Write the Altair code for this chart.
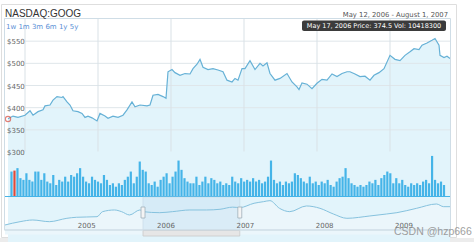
import altair as alt
import pandas as pd

# ---------------- data ----------------
title_text = "NASDAQ:GOOG"
range_text = "May 12, 2006 - August 1, 2007"
tooltip_text = "May 17, 2006 Price: 374.5 Vol: 10418300"
period_links = "1w 1m 3m 6m 1y 5y"
watermark = "CSDN @hzp666"

# main price series: day offset since May 12, 2006 -> price ($)
price_day = [3, 8, 13, 20, 25, 28, 33, 38, 40, 45, 48, 52, 57, 58, 62, 65, 68, 73, 77, 80,
             83, 87, 92, 95, 100, 103, 108, 113, 118, 122, 127, 130, 135, 142, 145, 148, 153, 158, 161, 163,
             167, 170, 175, 180, 185, 188, 192, 195, 198, 203, 208, 213, 218, 222, 227, 230, 233, 237, 240, 245,
             250, 255, 258, 262, 265, 270, 275, 282, 287, 292, 294, 297, 302, 307, 312, 317, 322, 327, 332, 337,
             342, 345, 350, 355, 360, 365, 369, 374, 379, 385, 390, 395, 400, 405, 409, 414, 417, 422, 427, 430,
             434, 435, 439, 442, 445]
price_val = [375, 381, 378, 383, 393, 383, 391, 395, 404, 406, 417, 425, 423, 425, 413, 406, 393, 391, 387, 378,
             381, 377, 370, 387, 381, 376, 381, 378, 383, 395, 413, 402, 406, 404, 406, 428, 430, 425, 421, 481,
             486, 479, 473, 477, 476, 488, 498, 509, 491, 486, 488, 485, 481, 462, 458, 466, 462, 488, 488, 506,
             486, 500, 494, 501, 477, 462, 466, 477, 458, 447, 441, 456, 453, 443, 455, 464, 462, 476, 470, 477,
             481, 481, 476, 470, 471, 462, 473, 479, 488, 518, 509, 506, 518, 526, 533, 531, 541, 546, 552, 556,
             541, 518, 513, 516, 511]
marker_day = [3]
marker_price = [374.5]

y_ticks = [300, 350, 400, 450, 500, 550]
y_tick_labels = ["$300", "$350", "$400", "$450", "$500", "$550"]
grid_days = [20, 93, 166, 239, 312, 385]

# volume (millions)
volume_m = [10.0, 10.4, 11.4, 7.3, 6.6, 9.3, 6.6, 5.9, 10.0, 10.0, 6.6, 9.3, 5.9, 5.2, 8.6, 4.5, 6.6, 5.9, 7.9, 5.9,
            8.6, 7.9, 9.3, 11.4, 7.9, 5.9, 5.2, 7.9, 6.6, 5.9, 5.2, 8.6, 6.6, 4.5, 5.2, 3.8, 5.2, 4.5, 6.6, 7.9,
            10.0, 5.2, 7.9, 14.1, 10.7, 10.0, 5.2, 4.5, 5.9, 3.8, 6.6, 7.9, 9.3, 5.2, 7.9, 10.0, 14.5, 10.7, 7.3, 5.9,
            5.2, 5.2, 7.9, 4.5, 5.9, 7.9, 5.2, 7.3, 6.6, 5.2, 5.9, 4.5, 5.2, 4.5, 7.9, 5.9, 5.2, 7.3, 5.9,
            6.6, 5.9, 7.3, 5.9, 6.6, 5.2, 5.9, 7.9, 14.5, 6.6, 5.2, 5.9, 4.5, 5.9, 5.2, 5.9, 9.3, 8.6, 7.3, 5.9,
            5.2, 7.9, 5.2, 5.9, 4.5, 5.9, 5.2, 6.6, 4.5, 3.8, 5.9, 7.3, 7.9, 11.4, 7.3, 5.2, 4.5, 3.8, 4.5, 3.8,
            4.5, 5.9, 5.2, 6.6, 4.5, 7.3, 8.6, 10.0, 9.3, 5.2, 7.3, 5.2, 6.6, 4.5, 3.8, 5.2, 4.5, 5.2, 4.5, 5.9,
            6.6, 5.2, 16.4, 6.6, 5.2, 5.9, 4.5]
highlight_index = 1

# navigator series: year -> price ($)
nav_year = [2003.97, 2004.16, 2004.32, 2004.53, 2004.75, 2004.87, 2005.13, 2005.20, 2005.35, 2005.44,
            2005.54, 2005.67, 2005.71, 2005.92, 2006.08, 2006.30, 2006.51, 2006.68, 2006.84, 2006.93,
            2007.11, 2007.23, 2007.31, 2007.43, 2007.56, 2007.77, 2007.94, 2008.11, 2008.28, 2008.57,
            2008.78, 2008.91, 2009.16, 2009.41, 2009.50, 2009.58]
nav_val = [210, 282, 319, 282, 356, 378, 391, 501, 538, 501,
           429, 538, 501, 479, 501, 538, 538, 553, 600, 590,
           685, 720, 742, 575, 501, 626, 575, 450, 356, 407,
           450, 479, 575, 669, 610, 610]
nav_year_labels = [2005, 2006, 2007, 2008, 2009]
sel_start = [2005.71]
sel_end = [2006.93]

# ---------------- tables ----------------
price_df = pd.DataFrame({"day": price_day, "price": price_val})
marker_df = pd.DataFrame({"day": marker_day, "price": marker_price})
ytick_df = pd.DataFrame({"v": y_ticks, "lab": y_tick_labels})
hgrid_df = pd.DataFrame({"v": y_ticks[1:]})
vgrid_df = pd.DataFrame({"day": grid_days})
vol_df = pd.DataFrame({"i": list(range(len(volume_m))), "vol": volume_m})
nav_df = pd.DataFrame({"yr": nav_year, "p": nav_val})
navlab_df = pd.DataFrame({"yr": nav_year_labels, "lab": [str(y) for y in nav_year_labels]})
sel_df = pd.DataFrame({"s": sel_start, "e": sel_end})
one = pd.DataFrame({"k": [0]})

FONT = "DejaVu Sans"

MX = alt.Scale(domain=[0, 445], range=[5, 450], nice=False, zero=False)
MY = alt.Scale(domain=[300, 600], range=[152, 19], nice=False, zero=False)
VX = alt.Scale(domain=[0, len(volume_m) - 1], range=[6.5, 449], nice=False, zero=False)
VY = alt.Scale(domain=[0, 18], range=[196, 152], nice=False, zero=False)
NX = alt.Scale(domain=[2003.97, 2009.58], range=[5, 450], nice=False, zero=False)
NY = alt.Scale(domain=[100, 800], range=[230, 198], nice=False, zero=False)

layers = []

# outer container
layers.append(alt.Chart(one).mark_rect(fillOpacity=0, stroke="#dedede", strokeWidth=1).encode(
    x=alt.value(1.5), x2=alt.value(456.5), y=alt.value(4.5), y2=alt.value(237.5)))
# bottom gray band
layers.append(alt.Chart(one).mark_rect(color="#ececec").encode(
    x=alt.value(0), x2=alt.value(474), y=alt.value(238), y2=alt.value(242)))

# main area + grid + line
layers.append(alt.Chart(price_df).mark_area(color="#e2f4fb", interpolate="linear").encode(
    x=alt.X("day:Q", scale=MX, axis=None),
    y=alt.Y("price:Q", scale=MY, axis=None),
    y2=alt.value(151.5)))
layers.append(alt.Chart(hgrid_df).mark_rule(color="#dfe6ea", strokeWidth=1).encode(
    y=alt.Y("v:Q", scale=MY, axis=None), x=alt.value(25), x2=alt.value(450)))
layers.append(alt.Chart(vgrid_df).mark_rule(color="#d9e1e6", strokeWidth=1).encode(
    x=alt.X("day:Q", scale=MX, axis=None), y=alt.value(19), y2=alt.value(151.5)))
layers.append(alt.Chart(price_df).mark_line(color="#66b1d6", strokeWidth=1.2, interpolate="linear").encode(
    x=alt.X("day:Q", scale=MX, axis=None),
    y=alt.Y("price:Q", scale=MY, axis=None)))
layers.append(alt.Chart(marker_df).mark_point(shape="circle", size=28, filled=False,
                                              color="#d64c3f", strokeWidth=1.1).encode(
    x=alt.X("day:Q", scale=MX, axis=None),
    y=alt.Y("price:Q", scale=MY, axis=None)))
layers.append(alt.Chart(ytick_df).mark_text(font=FONT, fontSize=7, color="#666666", align="left",
                                            baseline="middle", dy=1).encode(
    x=alt.value(7), y=alt.Y("v:Q", scale=MY, axis=None), text="lab:N"))

# volume bars
layers.append(alt.Chart(vol_df).mark_bar(size=2.2, orient="vertical").encode(
    x=alt.X("i:Q", scale=VX, axis=None),
    y=alt.Y("vol:Q", scale=VY, axis=None),
    y2=alt.value(196),
    color=alt.condition(alt.datum.i == highlight_index, alt.value("#e04a3a"), alt.value("#45b4e8"))))
layers.append(alt.Chart(one).mark_rule(color="#45b4e8", strokeWidth=1).encode(
    x=alt.value(5), x2=alt.value(450), y=alt.value(196.5)))

# navigator
layers.append(alt.Chart(nav_df).mark_area(color="#ebf6fb", interpolate="monotone").encode(
    x=alt.X("yr:Q", scale=NX, axis=None),
    y=alt.Y("p:Q", scale=NY, axis=None),
    y2=alt.value(229.5)))
layers.append(alt.Chart(sel_df).mark_rect(color="#cfe6f6", opacity=0.6, stroke="#b9cfdf", strokeWidth=0.8).encode(
    x=alt.X("s:Q", scale=NX, axis=None), x2="e:Q",
    y=alt.value(197), y2=alt.value(230)))
layers.append(alt.Chart(nav_df).mark_line(color="#86c2de", strokeWidth=1, interpolate="monotone").encode(
    x=alt.X("yr:Q", scale=NX, axis=None),
    y=alt.Y("p:Q", scale=NY, axis=None)))
layers.append(alt.Chart(navlab_df).mark_text(font=FONT, fontSize=7, color="#666666", align="center",
                                             baseline="middle").encode(
    x=alt.X("yr:Q", scale=NX, axis=None), y=alt.value(226), text="lab:N"))
layers.append(alt.Chart(one).mark_rule(color="#cfdde6", strokeWidth=1).encode(
    x=alt.value(4.5), x2=alt.value(450.5), y=alt.value(230)))
# scrollbar piece
layers.append(alt.Chart(sel_df).mark_rect(color="#e6e6e6", stroke="#c9c9c9", strokeWidth=0.8).encode(
    x=alt.X("s:Q", scale=NX, axis=None), x2="e:Q",
    y=alt.value(230.5), y2=alt.value(236)))
handle_df = pd.DataFrame({"yr": sel_start + sel_end})
layers.append(alt.Chart(handle_df).mark_point(
    shape="M-0.36,-1L0.36,-1L0.36,1L-0.36,1Z", size=121, filled=True,
    fill="#f4f4f4", stroke="#9fb0ba", strokeWidth=0.8, opacity=1).encode(
    x=alt.X("yr:Q", scale=NX, axis=None), y=alt.value(212.5)))

# frame
layers.append(alt.Chart(one).mark_rect(fillOpacity=0, stroke="#cfdde6", strokeWidth=1).encode(
    x=alt.value(4.5), x2=alt.value(450.5), y=alt.value(18.5), y2=alt.value(230)))

# texts
layers.append(alt.Chart(pd.DataFrame({"t": [title_text]})).mark_text(
    font="Liberation Sans", fontSize=10, color="#333333", align="left", baseline="alphabetic").encode(
    x=alt.value(5), y=alt.value(17), text="t:N"))
layers.append(alt.Chart(pd.DataFrame({"t": [period_links]})).mark_text(
    font=FONT, fontSize=7, color="#5b8fd6", align="left", baseline="middle").encode(
    x=alt.value(6), y=alt.value(26.5), text="t:N"))
layers.append(alt.Chart(pd.DataFrame({"t": [range_text]})).mark_text(
    font=FONT, fontSize=6.8, color="#555555", align="right", baseline="alphabetic").encode(
    x=alt.value(448), y=alt.value(17), text="t:N"))
layers.append(alt.Chart(one).mark_rect(color="#3b3b3b", cornerRadius=2).encode(
    x=alt.value(302), x2=alt.value(446), y=alt.value(20.5), y2=alt.value(31)))
layers.append(alt.Chart(pd.DataFrame({"t": [tooltip_text]})).mark_text(
    font=FONT, fontSize=6.5, color="#ffffff", align="center", baseline="middle").encode(
    x=alt.value(374), y=alt.value(26), text="t:N"))
layers.append(alt.Chart(pd.DataFrame({"t": [watermark]})).mark_text(
    font="Liberation Sans", fontSize=10.5, color="#8f8f8f", opacity=0.85, align="left",
    baseline="middle").encode(
    x=alt.value(394), y=alt.value(232), text="t:N"))

chart = alt.layer(*layers).resolve_scale(x="independent", y="independent").properties(
    width=474, height=242, autosize=alt.AutoSizeParams(type="none"), padding=0,
    background="#ffffff").configure_view(stroke=None)

chart.save("out.html", embed_options={"renderer": "svg", "actions": False})
